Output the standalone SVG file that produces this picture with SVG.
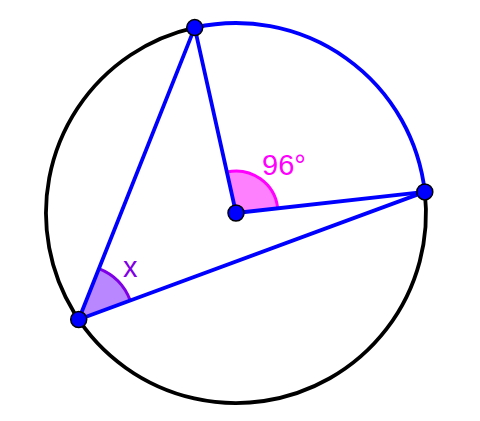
<svg xmlns="http://www.w3.org/2000/svg" width="480" height="421" viewBox="0 0 480 421">
<style>
.seg{stroke:#0000ff;stroke-width:3.8;fill:none;stroke-linecap:round}
.pt{fill:#0000ff;stroke:#000;stroke-width:1.5}
.lbl{font-family:"Liberation Sans",Arial,sans-serif;font-size:29px}
</style>
<rect width="480" height="421" fill="#fff"/>
<g id="circle">
<path d="M424.8,191.9 A190,190 0 1 1 194.7,27.6" fill="none" stroke="#000" stroke-width="3.8"/>
<path d="M194.7,27.6 A190,190 0 0 1 424.8,191.9" fill="none" stroke="#0000ff" stroke-width="3.8"/>
</g>
<g id="angle-96">
<path d="M236,213 L226.9,172.0 A42,42 0 0 1 277.7,208.3 Z" fill="#ff80ff" stroke="none"/>
<path d="M226.9,172.0 A42,42 0 0 1 277.7,208.3" fill="none" stroke="#ff00ff" stroke-width="3"/>
<text class="lbl" x="262" y="175" fill="#ff00ff">96°</text>
</g>
<g id="angle-x">
<path d="M78.7,319.5 L98.9,268.6 A55,55 0 0 1 130.2,300.4 Z" fill="#b987ff" stroke="none"/>
<path d="M98.9,268.6 A55,55 0 0 1 130.2,300.4" fill="none" stroke="#7f00e6" stroke-width="3"/>
<text class="lbl" x="123" y="277" fill="#7f00e6">x</text>
</g>
<g id="connectors">
<line class="seg" x1="194.7" y1="27.6" x2="78.7" y2="319.5"/>
<line class="seg" x1="194.7" y1="27.6" x2="236" y2="213"/>
<line class="seg" x1="236" y1="213" x2="424.8" y2="191.9"/>
<line class="seg" x1="78.7" y1="319.5" x2="424.8" y2="191.9"/>
</g>
<g id="point-top"><circle class="pt" cx="194.7" cy="27.6" r="8"/></g>
<g id="point-right"><circle class="pt" cx="424.8" cy="191.9" r="8"/></g>
<g id="point-left"><circle class="pt" cx="78.7" cy="319.5" r="8"/></g>
<g id="point-center"><circle class="pt" cx="236" cy="213" r="8"/></g>
</svg>
